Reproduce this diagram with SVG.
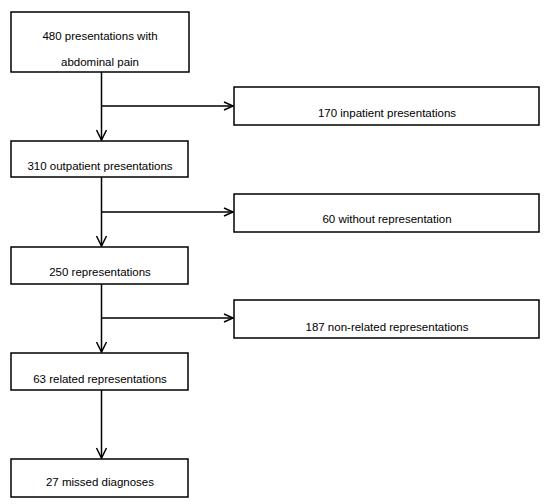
<svg xmlns="http://www.w3.org/2000/svg" width="550" height="504" viewBox="0 0 550 504">
<style>
.box{fill:#fff;stroke:#000;stroke-width:1.5}
.ln{fill:none;stroke:#000;stroke-width:1.5}
.ah{fill:none;stroke:#000;stroke-width:1.5;stroke-linejoin:miter}
text{font-family:"Liberation Sans",Arial,sans-serif;font-size:11.5px;fill:#000;text-anchor:middle}
</style>
<rect width="550" height="504" fill="#fff"/>
<g id="connectors">
<path class="ln" d="M101.5 72V140M101.5 106H233M101.5 177V246M101.5 212H233M101.5 284V352M101.5 318H233M101.5 390V458"/>
<path class="ah" d="M96.5 130L101.5 140L106.5 130M96.5 236L101.5 246L106.5 236M96.5 342L101.5 352L106.5 342M96.5 448L101.5 458L106.5 448"/>
<path class="ah" d="M224 102L233 106L224 110M224 208L233 212L224 216M224 314L233 318L224 322"/>
</g>
<g id="n1"><rect class="box" x="11" y="12" width="178" height="60"/><text x="100" y="40">480 presentations with</text><text x="100" y="66">abdominal pain</text></g>
<g id="n2"><rect class="box" x="234" y="87" width="305" height="38"/><text x="387" y="117">170 inpatient presentations</text></g>
<g id="n3"><rect class="box" x="11" y="141" width="177" height="36"/><text x="100" y="170">310 outpatient presentations</text></g>
<g id="n4"><rect class="box" x="234" y="194" width="305" height="38"/><text x="387" y="223">60 without representation</text></g>
<g id="n5"><rect class="box" x="11" y="247" width="177" height="37"/><text x="100" y="276">250 representations</text></g>
<g id="n6"><rect class="box" x="234" y="300" width="305" height="38"/><text x="387" y="331">187 non-related representations</text></g>
<g id="n7"><rect class="box" x="11" y="353" width="177" height="37"/><text x="100" y="383">63 related representations</text></g>
<g id="n8"><rect class="box" x="11" y="459" width="177" height="38"/><text x="100" y="486">27 missed diagnoses</text></g>
</svg>
